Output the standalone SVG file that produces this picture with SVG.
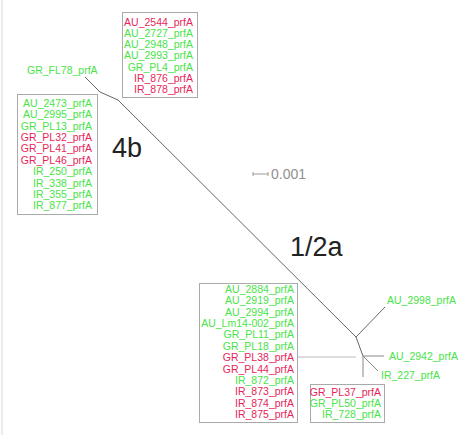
<svg xmlns="http://www.w3.org/2000/svg" width="474" height="439" viewBox="0 0 474 439">
<style>
text{font-family:"Liberation Sans",Arial,sans-serif}
.t{font-size:10.5px}
.g{fill:#48e448}
.r{fill:#e81f5a}
.e{text-anchor:end}
.box{fill:#fff;stroke:#aaa;stroke-width:1}
.br{fill:none;stroke:#666;stroke-width:1}
.st{fill:none;stroke:#888;stroke-width:1}
.big{font-size:27px;fill:#222}
</style>
<rect width="474" height="439" fill="#fff"/>
<line x1="2" y1="0" x2="2" y2="435" stroke="#e4e4e4" stroke-width="1.5"/>
<g id="connectors">
<polyline class="br" points="85,77 100,92 118,100 356,337"/>
<line class="br" x1="356" y1="337" x2="385" y2="307"/>
<line class="br" x1="356" y1="337" x2="363" y2="356"/>
<line class="st" x1="363" y1="356" x2="384" y2="356"/>
<line class="st" x1="363" y1="356" x2="378" y2="371"/>
<line class="st" x1="363" y1="356" x2="363" y2="377"/>
<line x1="298" y1="357" x2="356" y2="357" stroke="#bbb" stroke-width="1"/>
</g>
<g id="scale">
<line x1="253" y1="174" x2="268" y2="174" stroke="#999" stroke-width="1"/>
<line x1="253" y1="172" x2="253" y2="176" stroke="#999" stroke-width="1"/>
<line x1="268" y1="172" x2="268" y2="176" stroke="#999" stroke-width="1"/>
<text x="271" y="179" font-size="14" fill="#909090">0.001</text>
</g>
<g id="label-4b"><text class="big" x="112" y="157">4b</text></g>
<g id="label-12a"><text class="big" x="290" y="256">1/2a</text></g>
<g id="leaf-GR_FL78"><text class="t g" x="27" y="73.7">GR_FL78_prfA</text></g>
<g id="leaf-AU_2998"><text class="t g" x="387" y="303.7">AU_2998_prfA</text></g>
<g id="leaf-AU_2942"><text class="t g" x="389" y="359.7">AU_2942_prfA</text></g>
<g id="leaf-IR_227"><text class="t g" x="381" y="378.7">IR_227_prfA</text></g>
<g id="box-top">
<rect class="box" x="122.5" y="12.5" width="75" height="85"/>
<text class="t e r" x="193" y="25.7">AU_2544_prfA</text>
<text class="t e g" x="193" y="36.9">AU_2727_prfA</text>
<text class="t e g" x="193" y="48.1">AU_2948_prfA</text>
<text class="t e g" x="193" y="59.3">AU_2993_prfA</text>
<text class="t e g" x="193" y="70.5">GR_PL4_prfA</text>
<text class="t e r" x="193" y="81.7">IR_876_prfA</text>
<text class="t e r" x="193" y="92.9">IR_878_prfA</text>
</g>
<g id="box-left">
<rect class="box" x="17.5" y="94.5" width="80" height="120"/>
<text class="t e g" x="92" y="106.7">AU_2473_prfA</text>
<text class="t e g" x="92" y="118.1">AU_2995_prfA</text>
<text class="t e g" x="92" y="129.5">GR_PL13_prfA</text>
<text class="t e r" x="92" y="140.9">GR_PL32_prfA</text>
<text class="t e r" x="92" y="152.3">GR_PL41_prfA</text>
<text class="t e r" x="92" y="163.7">GR_PL46_prfA</text>
<text class="t e g" x="92" y="175.1">IR_250_prfA</text>
<text class="t e g" x="92" y="186.5">IR_338_prfA</text>
<text class="t e g" x="92" y="197.9">IR_355_prfA</text>
<text class="t e g" x="92" y="209.3">IR_877_prfA</text>
</g>
<g id="box-bottom">
<rect class="box" x="199.5" y="283.5" width="98" height="139"/>
<text class="t e g" x="294" y="292.7">AU_2884_prfA</text>
<text class="t e g" x="294" y="304.1">AU_2919_prfA</text>
<text class="t e g" x="294" y="315.5">AU_2994_prfA</text>
<text class="t e g" x="294" y="326.9">AU_Lm14-002_prfA</text>
<text class="t e g" x="294" y="338.3">GR_PL11_prfA</text>
<text class="t e g" x="294" y="349.7">GR_PL18_prfA</text>
<text class="t e r" x="294" y="361.1">GR_PL38_prfA</text>
<text class="t e r" x="294" y="372.5">GR_PL44_prfA</text>
<text class="t e g" x="294" y="383.9">IR_872_prfA</text>
<text class="t e r" x="294" y="395.3">IR_873_prfA</text>
<text class="t e r" x="294" y="406.7">IR_874_prfA</text>
<text class="t e r" x="294" y="418.1">IR_875_prfA</text>
</g>
<g id="box-small">
<rect class="box" x="310.5" y="384.5" width="74" height="38"/>
<text class="t e r" x="381" y="395.7">GR_PL37_prfA</text>
<text class="t e g" x="381" y="407">GR_PL50_prfA</text>
<text class="t e g" x="381" y="418.3">IR_728_prfA</text>
</g>
</svg>
